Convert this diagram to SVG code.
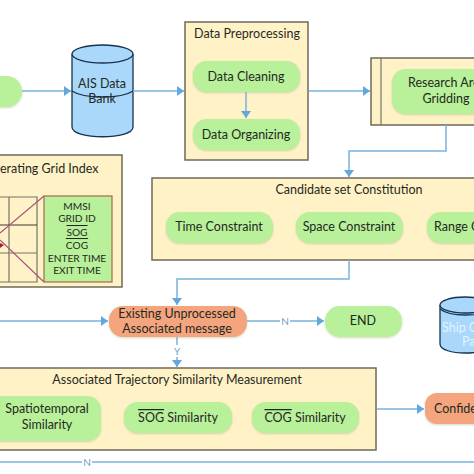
<svg xmlns="http://www.w3.org/2000/svg" width="474" height="474" viewBox="0 0 474 474">
<style>
text{font-family:Lato,"Liberation Sans",sans-serif;font-size:12.5px;fill:#1f2a1f;text-anchor:middle}
.s{text-anchor:start}
.box{fill:#fff2c6;stroke:#6f6a58;stroke-width:1.5}
.g{fill:#b9f09a;filter:url(#sh)}
.o{fill:#f4a57e;filter:url(#sh)}
.db{fill:#a9d8fb;stroke:#17324f;stroke-width:1.3}
.c{fill:none;stroke:#79b3dc;stroke-width:1.5}
.ca{fill:none;stroke:#79b3dc;stroke-width:1.5;marker-end:url(#a)}
.lab{fill:#6f9fc4;font-size:10px}
.grid{stroke:#77736b;stroke-width:1.2;fill:none}
.pk{stroke:#a8567a;stroke-width:1.2;fill:none}
.t{font-size:10.2px}
.w{fill:#e4f3ff}
</style>
<defs>
<marker id="a" markerUnits="userSpaceOnUse" markerWidth="8" markerHeight="10" refX="7" refY="5" orient="auto"><path d="M0 0L7 5L0 10Z" fill="#62a8dc"/></marker>
<filter id="sh" x="-10%" y="-15%" width="120%" height="135%"><feDropShadow dx="0" dy="1" stdDeviation="1.2" flood-color="#9aa87a" flood-opacity=".45"/></filter>
</defs>
<g id="start"><rect class="g" x="-30" y="76" width="52" height="31" rx="15.5"/></g>
<g id="ais"><path class="db" d="M72 54V127C72 140 133 140 133 127V54"/><ellipse class="db" cx="102.500" cy="54" rx="30.500" ry="9"/><path class="db" style="fill:none" d="M72 91C84 99 121 99 133 91"/><text x="102" y="88">AIS Data</text><text x="102" y="103">Bank</text></g>
<g id="preprocessing"><rect class="box" x="185" y="22" width="123" height="138"/><text x="247" y="38">Data Preprocessing</text><rect class="g" x="193" y="61" width="107" height="31" rx="14"/><text x="246" y="81">Data Cleaning</text><rect class="g" x="193" y="119" width="107" height="31" rx="14"/><text x="246" y="139">Data Organizing</text></g>
<g id="gridding"><rect class="box" x="371" y="58" width="110" height="67"/><path class="grid" d="M381 58V125"/><rect class="g" x="392" y="69" width="95" height="45" rx="14"/><text class="s" x="408" y="87">Research Are</text><text x="446" y="103">Gridding</text></g>
<g id="grid-index"><rect class="box" x="-40" y="155" width="162" height="132"/><text class="s" x="0" y="173">erating Grid Index</text><path class="grid" d="M0 197H37V282H0M0 253H37M9 197V282"/><path d="M0 225H37" stroke="#3b3a36" stroke-width="1.2"/><path class="pk" d="M0 233L44 196M0 240L44 282"/><path d="M0 243L4 245L0 248Z" fill="#a01d3c"/><rect x="44" y="196" width="68" height="86" fill="#b9f09a" stroke="#a8674f" stroke-width="1.2"/><text class="t" x="77" y="210">MMSI</text><text class="t" x="77" y="222">GRID ID</text><text class="t" x="77" y="236" text-decoration="overline">SOG</text><text class="t" x="77" y="249" text-decoration="overline">COG</text><text class="t" x="77" y="262">ENTER TIME</text><text class="t" x="77" y="274">EXIT TIME</text></g>
<g id="candidate"><rect class="box" x="152" y="178" width="340" height="82"/><text x="349" y="194">Candidate set Constitution</text><rect class="g" x="166" y="212" width="107" height="31" rx="14"/><text x="219" y="231">Time Constraint</text><rect class="g" x="296" y="212" width="107" height="31" rx="14"/><text x="349" y="231">Space Constraint</text><rect class="g" x="427" y="212" width="80" height="31" rx="14"/><text class="s" x="434" y="231">Range C</text></g>
<g id="existing"><rect class="o" x="109" y="306" width="138" height="31" rx="14"/><text x="177" y="318">Existing  Unprocessed</text><text x="177" y="333">Associated message</text></g>
<g id="end"><rect class="g" x="325" y="306" width="77" height="31" rx="15"/><text x="363" y="325">END</text></g>
<g id="ship"><path class="db" d="M440 305V344C440 356 490 356 490 344V305"/><ellipse class="db" cx="465" cy="305" rx="25" ry="8"/><path class="db" style="fill:none" d="M440 309C450 317 480 317 490 309"/><text class="s w" x="442" y="332">Ship Co</text><text class="s w" x="462" y="346">Pa</text></g>
<g id="similarity"><rect class="box" x="-10" y="368" width="386" height="82"/><text x="177" y="384">Associated Trajectory Similarity Measurement</text><rect class="g" x="-20" y="396" width="121" height="45" rx="14"/><text x="47" y="413">Spatiotemporal</text><text x="47" y="429">Similarity</text><rect class="g" x="124" y="402" width="108" height="31" rx="14"/><text x="178" y="422"><tspan text-decoration="overline">SOG</tspan> Similarity</text><rect class="g" x="252" y="402" width="107" height="31" rx="14"/><text x="305" y="422"><tspan text-decoration="overline">COG</tspan> Similarity</text></g>
<g id="confidence"><rect class="o" x="425" y="393" width="70" height="31" rx="12"/><text class="s" x="434" y="413">Confide</text></g>
<g id="connectors">
<path class="ca" d="M22 91H71"/><path class="ca" d="M133 91H184"/><path class="ca" d="M246 92V118"/><path class="ca" d="M309 91H370"/>
<path class="ca" d="M446 125V151H349V177"/><path class="ca" d="M349 260V279H177V305"/><path class="ca" d="M0 321H108"/><path class="ca" d="M247 321H324"/><path class="ca" d="M177 337V367"/><path class="ca" d="M377 409H424"/><path class="c" d="M0 462H474"/>
<rect x="280" y="315" width="10" height="12" fill="#fff"/><text class="lab" x="285" y="325">N</text>
<rect x="172" y="345" width="10" height="12" fill="#fff"/><text class="lab" x="177" y="355">Y</text>
<rect x="82" y="456" width="10" height="12" fill="#fff"/><text class="lab" x="87" y="466">N</text>
</g>
</svg>
